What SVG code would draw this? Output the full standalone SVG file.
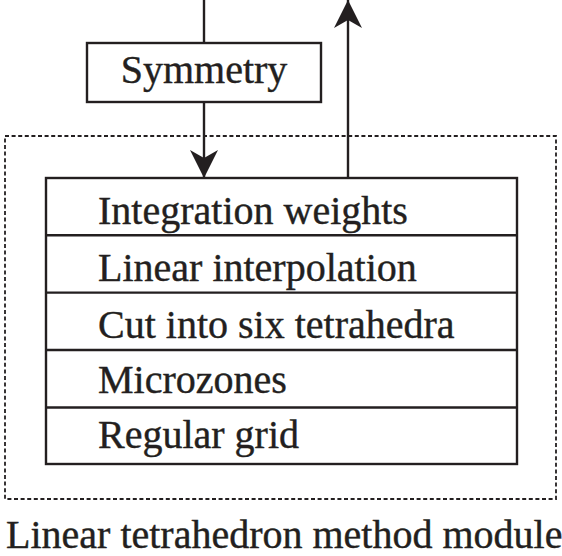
<svg xmlns="http://www.w3.org/2000/svg" width="562" height="556" viewBox="0 0 562 556">
<style>
text{font-family:"Liberation Serif","Times New Roman",serif;font-size:40px;fill:#231f20;stroke:#231f20;stroke-width:0.4}
.box{fill:#fff;stroke:#231f20;stroke-width:2.4}
.ln{stroke:#231f20;stroke-width:2.4;fill:none}
.dash{fill:none;stroke:#231f20;stroke-width:1.8;stroke-dasharray:4 2.6}
</style>
<defs>
<marker id="ah" viewBox="0 0 28 28" refX="28" refY="14" markerWidth="28" markerHeight="28" markerUnits="userSpaceOnUse" orient="auto">
<path d="M0,0 L28,14 L0,28 L8,14 Z" fill="#231f20"/>
</marker>
</defs>
<rect id="module" class="dash" x="5" y="136" width="551" height="363"/>
<g id="connectors">
<line class="ln" x1="204" y1="0" x2="204" y2="43"/>
<line class="ln" x1="204" y1="102" x2="204" y2="178" marker-end="url(#ah)"/>
<line class="ln" x1="348" y1="178" x2="348" y2="0" marker-end="url(#ah)"/>
</g>
<g id="symmetry">
<rect class="box" x="87" y="43" width="234" height="59"/>
<text x="204" y="83" text-anchor="middle">Symmetry</text>
</g>
<g id="stack">
<rect class="box" x="46" y="178" width="471" height="286"/>
<line class="ln" x1="46" y1="235.3" x2="517" y2="235.3"/>
<line class="ln" x1="46" y1="292.6" x2="517" y2="292.6"/>
<line class="ln" x1="46" y1="350" x2="517" y2="350"/>
<line class="ln" x1="46" y1="407.5" x2="517" y2="407.5"/>
</g>
<g id="integration"><text x="98" y="224">Integration weights</text></g>
<g id="linear"><text x="98" y="281">Linear interpolation</text></g>
<g id="cut"><text x="98" y="338">Cut into six tetrahedra</text></g>
<g id="microzones"><text x="98" y="393">Microzones</text></g>
<g id="grid"><text x="98" y="448">Regular grid</text></g>
<text x="6" y="548">Linear tetrahedron method module</text>
</svg>
